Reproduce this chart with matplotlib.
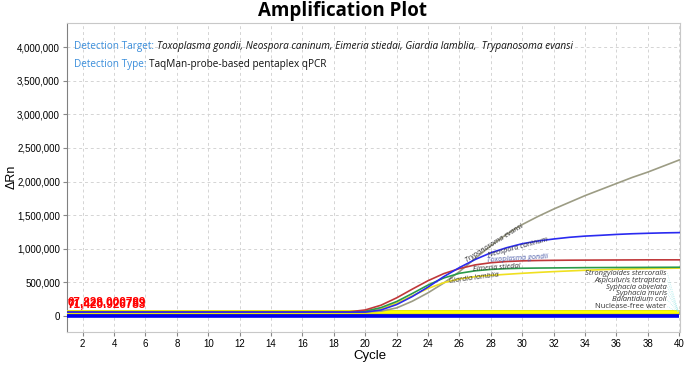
import matplotlib
matplotlib.use("Agg")
import matplotlib.pyplot as plt
import numpy as np

# ---------------- data ----------------
cycles = list(range(1, 41))

trypanosoma = [60e3]*20 + [72e3, 120e3, 220e3, 345e3, 490e3, 660e3, 855e3, 1045e3, 1215e3, 1360e3,
                            1480e3, 1590e3, 1690e3, 1790e3, 1880e3, 1970e3, 2060e3, 2140e3, 2230e3, 2320e3]
neospora = [58e3]*20 + [90e3, 170e3, 290e3, 430e3, 585e3, 720e3, 840e3, 940e3, 1015e3, 1075e3,
                         1115e3, 1145e3, 1170e3, 1188e3, 1200e3, 1213e3, 1223e3, 1230e3, 1236e3, 1240e3]
toxoplasma = [58e3]*18 + [62e3, 90e3, 160e3, 270e3, 400e3, 525e3, 630e3, 705e3, 760e3, 792e3, 810e3, 820e3,
                           825e3, 828e3, 830e3, 831e3, 832e3, 833e3, 834e3, 835e3, 835e3, 835e3]
eimeria = [58e3]*19 + [72e3, 125e3, 215e3, 335e3, 460e3, 565e3, 635e3, 672e3, 693e3, 704e3, 710e3,
                        713e3, 715e3, 717e3, 719e3, 720e3, 721e3, 722e3, 723e3, 724e3, 725e3]
giardia = [58e3]*19 + [66e3, 110e3, 190e3, 300e3, 410e3, 495e3, 552e3, 585e3, 605e3, 620e3, 635e3,
                        648e3, 660e3, 670e3, 680e3, 688e3, 695e3, 700e3, 705e3, 708e3, 712e3]

negative_yellow = [55e3]*40
negative_blue = [0.0]*40

threshold_texts = ["67,828.000789", "71,420.926783"]
negative_names = ["Strongyloides stercoralis", "Aspiculuris tetraptera", "Syphacia obvelata",
                  "Syphacia muris", "Balantidium coli", "Nuclease-free water"]
negative_label_y = [635e3, 525e3, 427e3, 338e3, 238e3, 138e3]

y_ticks = [0, 500000, 1000000, 1500000, 2000000, 2500000, 3000000, 3500000, 4000000]
x_ticks = list(range(2, 41, 2))

# ---------------- figure ----------------
plt.rcParams['font.family'] = ['Liberation Sans', 'DejaVu Sans']
fig = plt.figure(figsize=(6.85, 3.65), dpi=100)
ax = fig.add_axes([67/685, 1-332/365, (680-67)/685, (332-23)/365])
ax.set_xlim(1, 40.05)
ax.set_ylim(-238000, 4357000)

ax.set_xticks(x_ticks)
ax.set_yticks(y_ticks)
ax.set_yticklabels([f"{v:,}" for v in y_ticks])
ax.tick_params(labelsize=7, length=3, color='#888888', pad=2)
ax.grid(True, linestyle=(0, (3, 3)), color='#d4d4d4', linewidth=0.7)
ax.set_axisbelow(True)
for s in ['top', 'right', 'bottom']:
    ax.spines[s].set_color('#c8c8c8')
ax.spines['left'].set_color('#808080')

# negative/baseline lines
ax.plot(cycles, negative_yellow, color='#8a8a30', lw=3.6, solid_capstyle='butt', zorder=3)
ax.plot(cycles, negative_yellow, color='#ffff00', lw=2.6, solid_capstyle='butt', zorder=3)
ax.plot(cycles, negative_blue, color='#0000ee', lw=2.6, solid_capstyle='butt', zorder=3)

# amplification curves
ax.plot(cycles, trypanosoma, color='#9c9c84', lw=1.2, zorder=4)
ax.plot(cycles, giardia, color='#f0e020', lw=1.2, zorder=4)
ax.plot(cycles, eimeria, color='#2a9a4a', lw=1.2, zorder=4)
ax.plot(cycles, toxoplasma, color='#c0383a', lw=1.2, zorder=4)
ax.plot(cycles, neospora, color='#2a2af0', lw=1.2, zorder=4)

# curve labels
lab_kw = dict(fontsize=5.3, style='italic', family=['Open Sans', 'DejaVu Sans'],
              ha='center', va='center', rotation_mode='anchor', zorder=6)
ax.text(28.2, 1085e3, "Trypanosoma evansi", rotation=32, color='#333333', **lab_kw)
ax.text(29.7, 1020e3, "Neospora caninum", rotation=15, color='#333344', **lab_kw)
ax.text(29.7, 848e3, "Toxoplasma gondii", rotation=3.5, color='#4a5aa8', **lab_kw)
ax.text(28.4, 718e3, "Eimeria stiedai", rotation=4, color='#333333', **lab_kw)
ax.text(26.9, 565e3, "Giardia lamblia", rotation=7.5, color='#333333', **lab_kw)

for name, yv in zip(negative_names, negative_label_y):
    st = 'normal' if name.startswith('Nuclease') else 'italic'
    ax.text(39.2, yv, name, fontsize=5.5, style=st, family=['Open Sans', 'DejaVu Sans'],
            color='#333333', ha='right', va='center', zorder=6)
    ax.plot([39.25, 39.95], [yv, 60e3], color='#9fe8e8', lw=0.5, ls=':', zorder=5)

# threshold labels (overlapping red)
ax.text(1.05, 100e3, threshold_texts[0], fontsize=8.5, fontweight='bold', color='#ff0000', va='bottom', zorder=7)
ax.text(1.05, 72e3, threshold_texts[1], fontsize=8.5, fontweight='bold', color='#ff0000', va='bottom', zorder=7)

# axis labels and title
ax.set_xlabel("Cycle", fontsize=9.5)
ax.set_ylabel("ΔRn", fontsize=9)
ax.xaxis.set_label_coords((370-67)/(680-67), -(350-332)/(332-23))
ax.yaxis.set_label_coords((18-67)/(680-67), (332-177)/(332-23))
fig.text(342/685, 1-11/365, "Amplification Plot", fontsize=13.5, fontweight='bold',
         family=['Open Sans', 'DejaVu Sans'], ha='center', va='center')

# detection text (multi-style, placed sequentially)
fig.canvas.draw()
renderer = fig.canvas.get_renderer()

def seq_text(x0_px, y_px, parts):
    x = x0_px
    for txt, col, st in parts:
        t = fig.text(x/685, 1-y_px/365, txt, fontsize=7.2, color=col, style=st,
                     family=['Open Sans', 'DejaVu Sans'], va='center', ha='left', zorder=8)
        bb = t.get_window_extent(renderer=renderer)
        x += bb.width

seq_text(74, 47, [("Detection Target: ", '#3b8edb', 'normal'),
                  ("Toxoplasma gondii, Neospora caninum, Eimeria stiedai, Giardia lamblia,  Trypanosoma evansi",
                   '#111111', 'italic')])
seq_text(74, 64, [("Detection Type: ", '#3b8edb', 'normal'),
                  ("TaqMan-probe-based pentaplex qPCR", '#111111', 'normal')])

fig.savefig("out.png", dpi=100)
